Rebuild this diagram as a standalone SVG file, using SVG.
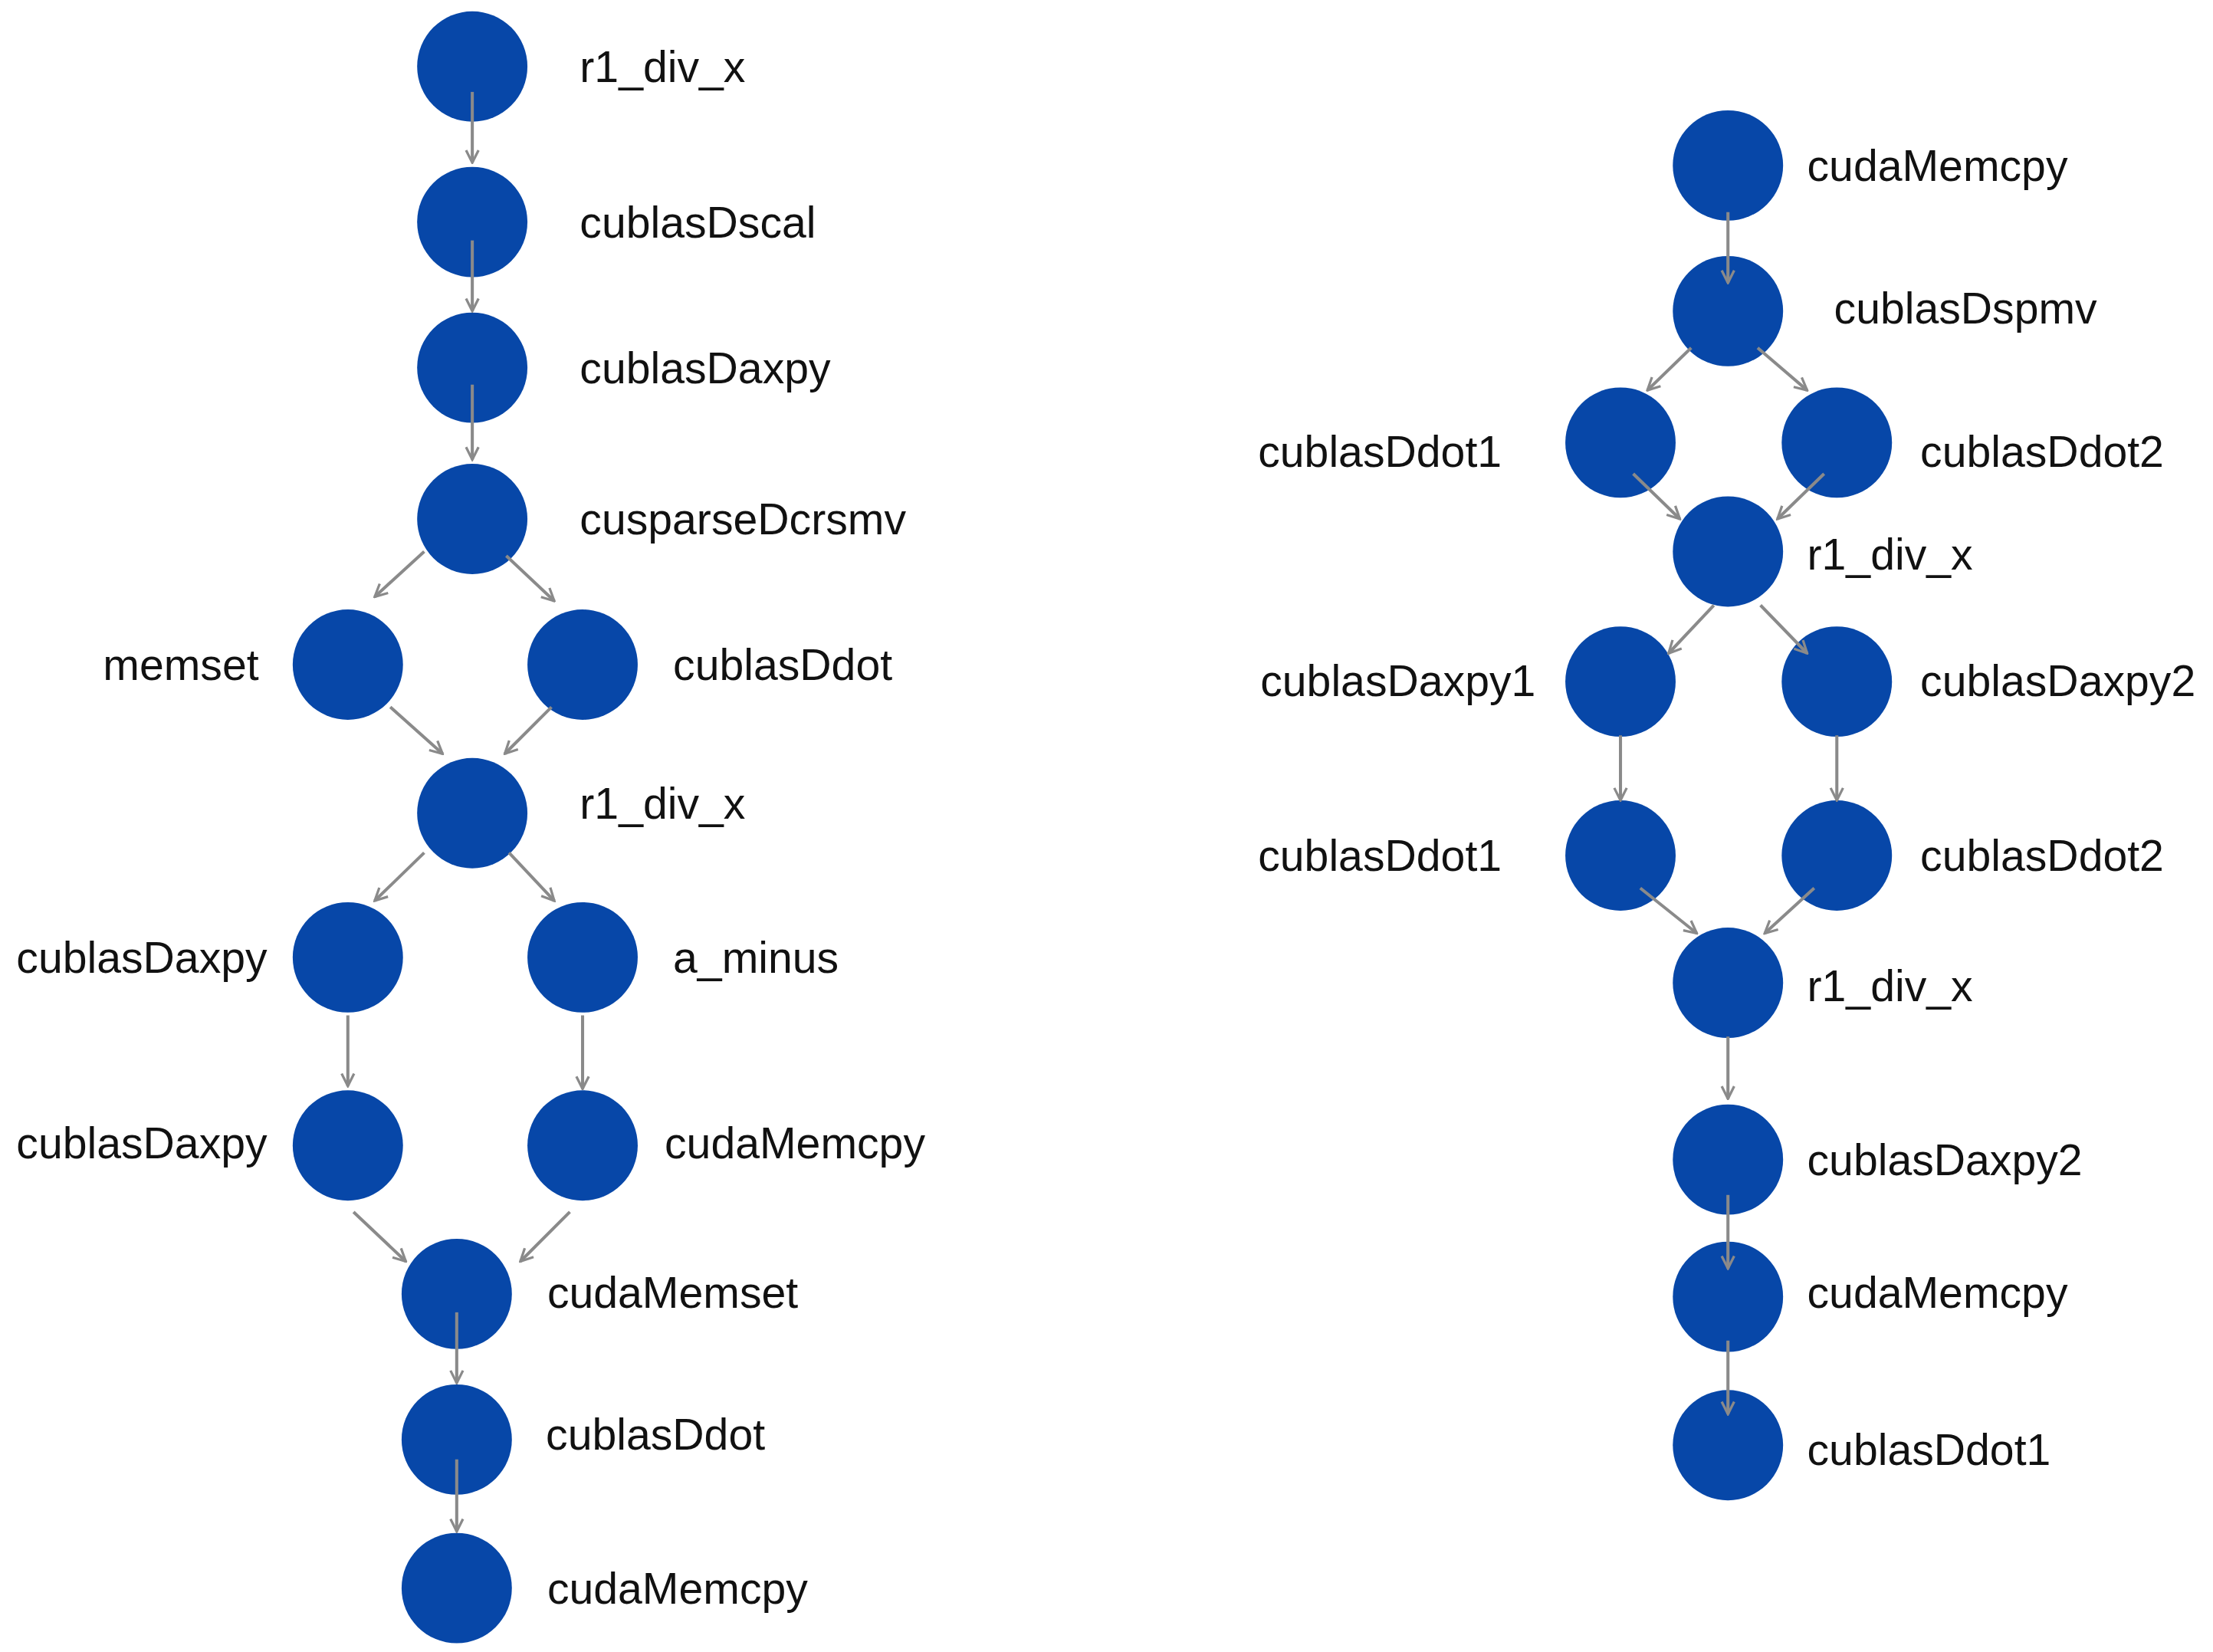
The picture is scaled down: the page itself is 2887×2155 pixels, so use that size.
<svg xmlns="http://www.w3.org/2000/svg" width="2887" height="2155" viewBox="0 0 2887 2155">
<defs>
<marker id="ah" viewBox="0 0 10 10" refX="9" refY="5" markerWidth="5" markerHeight="5" orient="auto" markerUnits="strokeWidth">
<path d="M1,1 L9,5 L1,9" fill="none" stroke="#8a8a8a" stroke-width="1.6"/>
</marker>
<style>
.n{fill:#0747A8}
.t{font-family:"Liberation Sans",Arial,sans-serif;font-size:31px;fill:#111}
.e{stroke:#8a8a8a;stroke-width:2.2;fill:none;marker-end:url(#ah)}
</style>
</defs>
<rect width="2887" height="2155" fill="#fff"/>
<g transform="scale(1.8447)">
<g id="nodes-left">
<g id="L1"><circle class="n" cx="334" cy="47" r="39"/><text class="t" x="410" y="58">r1_div_x</text></g>
<g id="L2"><circle class="n" cx="334" cy="157" r="39"/><text class="t" x="410" y="168">cublasDscal</text></g>
<g id="L3"><circle class="n" cx="334" cy="260" r="39"/><text class="t" x="410" y="271">cublasDaxpy</text></g>
<g id="L4"><circle class="n" cx="334" cy="367" r="39"/><text class="t" x="410" y="378">cusparseDcrsmv</text></g>
<g id="L5"><circle class="n" cx="246" cy="470" r="39"/><text class="t" x="183" y="481" text-anchor="end">memset</text></g>
<g id="L6"><circle class="n" cx="412" cy="470" r="39"/><text class="t" x="476" y="481">cublasDdot</text></g>
<g id="L7"><circle class="n" cx="334" cy="575" r="39"/><text class="t" x="410" y="579">r1_div_x</text></g>
<g id="L8"><circle class="n" cx="246" cy="677" r="39"/><text class="t" x="189" y="688" text-anchor="end">cublasDaxpy</text></g>
<g id="L9"><circle class="n" cx="412" cy="677" r="39"/><text class="t" x="476" y="688">a_minus</text></g>
<g id="L10"><circle class="n" cx="246" cy="810" r="39"/><text class="t" x="189" y="819" text-anchor="end">cublasDaxpy</text></g>
<g id="L11"><circle class="n" cx="412" cy="810" r="39"/><text class="t" x="470" y="819">cudaMemcpy</text></g>
<g id="L12"><circle class="n" cx="323" cy="915" r="39"/><text class="t" x="387" y="925">cudaMemset</text></g>
<g id="L13"><circle class="n" cx="323" cy="1018" r="39"/><text class="t" x="386" y="1025">cublasDdot</text></g>
<g id="L14"><circle class="n" cx="323" cy="1123" r="39"/><text class="t" x="387" y="1134">cudaMemcpy</text></g>
</g>
<g id="nodes-right">
<g id="R1"><circle class="n" cx="1222" cy="117" r="39"/><text class="t" x="1278" y="128">cudaMemcpy</text></g>
<g id="R2"><circle class="n" cx="1222" cy="220" r="39"/><text class="t" x="1297" y="229">cublasDspmv</text></g>
<g id="R3"><circle class="n" cx="1146" cy="313" r="39"/><text class="t" x="1062" y="330" text-anchor="end">cublasDdot1</text></g>
<g id="R4"><circle class="n" cx="1299" cy="313" r="39"/><text class="t" x="1358" y="330">cublasDdot2</text></g>
<g id="R5"><circle class="n" cx="1222" cy="390" r="39"/><text class="t" x="1278" y="403">r1_div_x</text></g>
<g id="R6"><circle class="n" cx="1146" cy="482" r="39"/><text class="t" x="1086" y="492" text-anchor="end">cublasDaxpy1</text></g>
<g id="R7"><circle class="n" cx="1299" cy="482" r="39"/><text class="t" x="1358" y="492">cublasDaxpy2</text></g>
<g id="R8"><circle class="n" cx="1146" cy="605" r="39"/><text class="t" x="1062" y="616" text-anchor="end">cublasDdot1</text></g>
<g id="R9"><circle class="n" cx="1299" cy="605" r="39"/><text class="t" x="1358" y="616">cublasDdot2</text></g>
<g id="R10"><circle class="n" cx="1222" cy="695" r="39"/><text class="t" x="1278" y="708">r1_div_x</text></g>
<g id="R11"><circle class="n" cx="1222" cy="820" r="39"/><text class="t" x="1278" y="831">cublasDaxpy2</text></g>
<g id="R12"><circle class="n" cx="1222" cy="917" r="39"/><text class="t" x="1278" y="925">cudaMemcpy</text></g>
<g id="R13"><circle class="n" cx="1222" cy="1022" r="39"/><text class="t" x="1278" y="1036">cublasDdot1</text></g>
</g>
<g id="edges">
<line class="e" x1="334" y1="65" x2="334" y2="115"/>
<line class="e" x1="334" y1="170" x2="334" y2="220"/>
<line class="e" x1="334" y1="272" x2="334" y2="325"/>
<line class="e" x1="300" y1="390" x2="265" y2="422"/>
<line class="e" x1="358" y1="393" x2="392" y2="425"/>
<line class="e" x1="276" y1="500" x2="313" y2="533"/>
<line class="e" x1="390" y1="500" x2="357" y2="533"/>
<line class="e" x1="300" y1="603" x2="265" y2="637"/>
<line class="e" x1="360" y1="603" x2="392" y2="637"/>
<line class="e" x1="246" y1="718" x2="246" y2="768"/>
<line class="e" x1="412" y1="718" x2="412" y2="770"/>
<line class="e" x1="250" y1="857" x2="287" y2="892"/>
<line class="e" x1="403" y1="857" x2="368" y2="892"/>
<line class="e" x1="323" y1="928" x2="323" y2="978"/>
<line class="e" x1="323" y1="1032" x2="323" y2="1083"/>
<line class="e" x1="1222" y1="150" x2="1222" y2="200"/>
<line class="e" x1="1196" y1="246" x2="1165" y2="276"/>
<line class="e" x1="1243" y1="246" x2="1278" y2="276"/>
<line class="e" x1="1155" y1="335" x2="1188" y2="367"/>
<line class="e" x1="1290" y1="335" x2="1257" y2="367"/>
<line class="e" x1="1212" y1="428" x2="1180" y2="462"/>
<line class="e" x1="1245" y1="428" x2="1278" y2="462"/>
<line class="e" x1="1146" y1="520" x2="1146" y2="566"/>
<line class="e" x1="1299" y1="520" x2="1299" y2="566"/>
<line class="e" x1="1160" y1="628" x2="1200" y2="660"/>
<line class="e" x1="1283" y1="628" x2="1248" y2="660"/>
<line class="e" x1="1222" y1="733" x2="1222" y2="777"/>
<line class="e" x1="1222" y1="845" x2="1222" y2="897"/>
<line class="e" x1="1222" y1="948" x2="1222" y2="1000"/>
</g>
</g>
</svg>
